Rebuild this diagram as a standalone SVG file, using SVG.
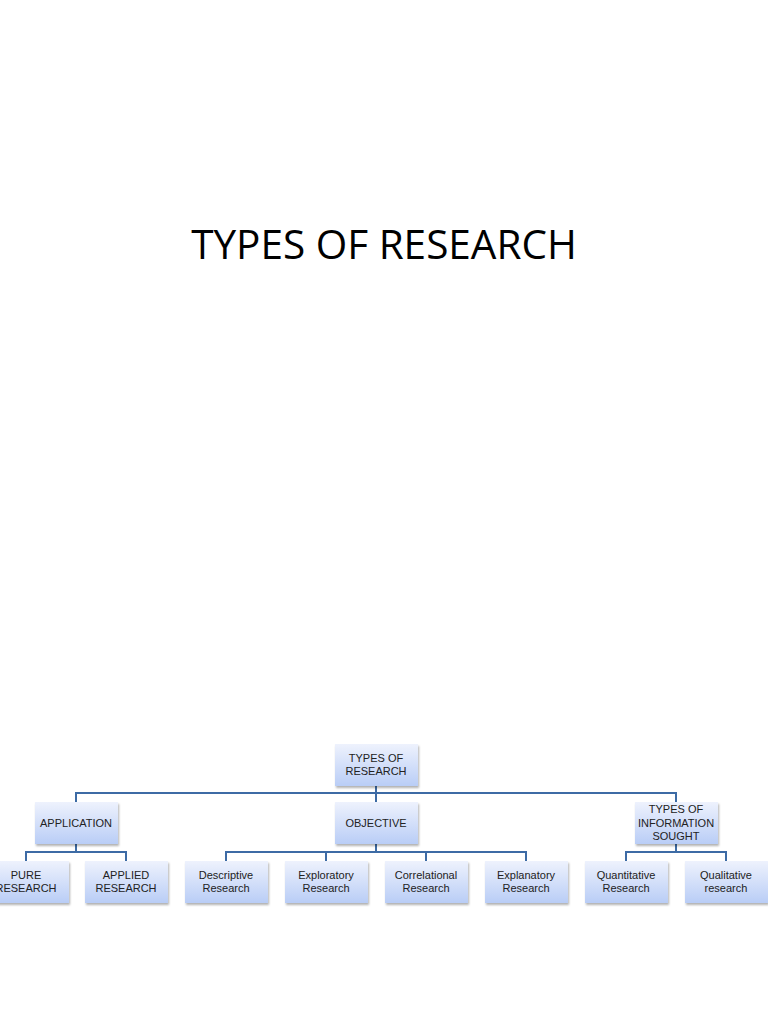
<svg xmlns="http://www.w3.org/2000/svg" width="768" height="1024" viewBox="0 0 768 1024">
<defs>
<linearGradient id="g" x1="0" y1="0" x2="0" y2="1"><stop offset="0" stop-color="#eef2fd"/><stop offset="1" stop-color="#b9cdf6"/></linearGradient>
<filter id="s" x="-20%" y="-20%" width="140%" height="150%"><feDropShadow dx="1" dy="2" stdDeviation="1.2" flood-color="#000" flood-opacity="0.3"/></filter>
</defs>
<style>
.b{fill:url(#g);filter:url(#s)}
.t{font-family:"Liberation Sans",Arial,sans-serif;font-size:11px;fill:#222;text-anchor:middle}
.c{fill:none;stroke:#3d6ba5;stroke-width:2}
</style>
<rect width="768" height="1024" fill="#fff"/>
<text x="384" y="259" font-family="Open Sans,Liberation Sans,sans-serif" font-size="40.5" text-anchor="middle" fill="#000">TYPES OF RESEARCH</text>
<g id="connectors">
<path class="c" d="M376 786V793M76 802V793H676V802M376 793V802"/>
<path class="c" d="M76 844V852M26 861V852H126V861"/>
<path class="c" d="M376 844V852M226 861V852H526V861M326 852V861M426 852V861"/>
<path class="c" d="M676 844V852M626 861V852H726V861"/>
</g>
<g id="root"><rect class="b" x="335" y="744" width="83" height="42"/><text class="t" x="376" y="762">TYPES OF</text><text class="t" x="376" y="775">RESEARCH</text></g>
<g id="application"><rect class="b" x="35" y="802" width="83" height="42"/><text class="t" x="76" y="827">APPLICATION</text></g>
<g id="objective"><rect class="b" x="335" y="802" width="83" height="42"/><text class="t" x="376" y="827">OBJECTIVE</text></g>
<g id="info"><rect class="b" x="635" y="802" width="83" height="42"/><text class="t" x="676" y="813">TYPES OF</text><text class="t" x="676" y="827">INFORMATION</text><text class="t" x="676" y="840">SOUGHT</text></g>
<g id="pure"><rect class="b" x="-15" y="861" width="84" height="42"/><text class="t" x="26" y="879">PURE</text><text class="t" x="26" y="892">RESEARCH</text></g>
<g id="applied"><rect class="b" x="85" y="861" width="83" height="42"/><text class="t" x="126" y="879">APPLIED</text><text class="t" x="126" y="892">RESEARCH</text></g>
<g id="descriptive"><rect class="b" x="185" y="861" width="83" height="42"/><text class="t" x="226" y="879">Descriptive</text><text class="t" x="226" y="892">Research</text></g>
<g id="exploratory"><rect class="b" x="285" y="861" width="83" height="42"/><text class="t" x="326" y="879">Exploratory</text><text class="t" x="326" y="892">Research</text></g>
<g id="correlational"><rect class="b" x="385" y="861" width="83" height="42"/><text class="t" x="426" y="879">Correlational</text><text class="t" x="426" y="892">Research</text></g>
<g id="explanatory"><rect class="b" x="485" y="861" width="83" height="42"/><text class="t" x="526" y="879">Explanatory</text><text class="t" x="526" y="892">Research</text></g>
<g id="quantitative"><rect class="b" x="585" y="861" width="83" height="42"/><text class="t" x="626" y="879">Quantitative</text><text class="t" x="626" y="892">Research</text></g>
<g id="qualitative"><rect class="b" x="685" y="861" width="83" height="42"/><text class="t" x="726" y="879">Qualitative</text><text class="t" x="726" y="892">research</text></g>
</svg>
